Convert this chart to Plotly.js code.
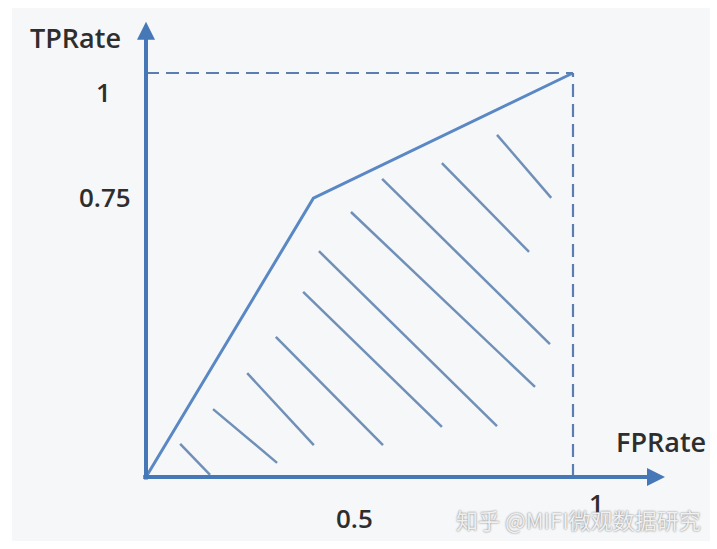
<!DOCTYPE html>
<html>
<head>
<meta charset="utf-8">
<script src="https://cdn.plot.ly/plotly-3.0.1.min.js"></script>
<style>html,body{margin:0;padding:0;background:#ffffff;}#chart{width:717px;height:549px;}</style>
</head>
<body>
<div id="chart"></div>
<script>
// ROC curve points
var rocFPR = [0, 0.392, 1];
var rocTPR = [0, 0.690, 1];

// hatch segments (start / end)
var hatchX0 = [0.080, 0.157, 0.237, 0.304, 0.368, 0.405, 0.480, 0.553, 0.693, 0.822];
var hatchY0 = [0.082, 0.168, 0.257, 0.347, 0.458, 0.559, 0.656, 0.738, 0.777, 0.847];
var hatchX1 = [0.150, 0.307, 0.393, 0.555, 0.693, 0.822, 0.911, 0.946, 0.897, 0.949];
var hatchY1 = [0.005, 0.035, 0.079, 0.079, 0.124, 0.126, 0.223, 0.329, 0.557, 0.691];

// axis and tick labels
var axisTitles = ['FPRate', 'TPRate'];
var xTickLabels = ['0.5', '1'];
var yTickLabels = ['1', '0.75'];
var watermark = '知乎 @MIFI微观数据研究';

var hx = [], hy = [];
for (var i = 0; i < hatchX0.length; i++) {
  hx.push(hatchX0[i], hatchX1[i], null);
  hy.push(hatchY0[i], hatchY1[i], null);
}

var axisColor = '#4677b6';
var txtFont = {family: 'Open Sans, Liberation Sans, sans-serif', size: 26, color: '#2e2e2e', weight: 600};

var traces = [
  {x: hx, y: hy, mode: 'lines', line: {color: '#7090b8', width: 2.5}, hoverinfo: 'skip', showlegend: false},
  {x: rocFPR, y: rocTPR, mode: 'lines', line: {color: '#5a88c4', width: 3}, hoverinfo: 'skip', showlegend: false}
];

var layout = {
  width: 717, height: 549,
  margin: {l: 12, r: 7, t: 8, b: 8},
  paper_bgcolor: '#ffffff',
  plot_bgcolor: '#f6f7f9',
  showlegend: false,
  xaxis: {range: [-0.31382, 1.32084], visible: false, fixedrange: true},
  yaxis: {range: [-0.15842, 1.16089], visible: false, fixedrange: true},
  shapes: [
    {type: 'line', xref: 'x', yref: 'y', x0: 0, y0: rocTPR[2], x1: rocFPR[2], y1: rocTPR[2],
     line: {color: '#5b7db0', width: 2.2, dash: '13px,7px'}},
    {type: 'line', xref: 'x', yref: 'y', x0: rocFPR[2], y0: 0, x1: rocFPR[2], y1: rocTPR[2],
     line: {color: '#5b7db0', width: 2.2, dash: '13px,7px'}}
  ],
  annotations: [
    // y axis arrow
    {x: 0, y: 1.127, ax: 0, ay: -0.01, xref: 'x', yref: 'y', axref: 'x', ayref: 'y',
     showarrow: true, arrowhead: 2, arrowsize: 0.9, arrowwidth: 4, arrowcolor: axisColor, text: ''},
    // x axis arrow
    {x: 1.2155, y: 0, ax: -0.01, ay: 0, xref: 'x', yref: 'y', axref: 'x', ayref: 'y',
     showarrow: true, arrowhead: 2, arrowsize: 0.9, arrowwidth: 4, arrowcolor: axisColor, text: ''},
    {x: -0.165, y: 1.088, xref: 'x', yref: 'y', text: axisTitles[1], showarrow: false, font: Object.assign({}, txtFont, {size: 27})},
    {x: 1.205, y: 0.089, xref: 'x', yref: 'y', text: axisTitles[0], showarrow: false, font: Object.assign({}, txtFont, {size: 27})},
    {x: -0.099, y: 0.952, xref: 'x', yref: 'y', text: yTickLabels[0], showarrow: false, font: txtFont},
    {x: -0.097, y: 0.694, xref: 'x', yref: 'y', text: yTickLabels[1], showarrow: false, font: txtFont},
    {x: 0.489, y: -0.101, xref: 'x', yref: 'y', text: xTickLabels[0], showarrow: false, font: txtFont},
    {x: 1.054, y: -0.064, xref: 'x', yref: 'y', text: xTickLabels[1], showarrow: false, font: txtFont},
    {x: 1.012, y: -0.103, xref: 'x', yref: 'y', text: watermark, showarrow: false,
     font: {family: 'Noto Sans CJK SC, sans-serif', size: 22, color: '#f0f0f0', shadow: '0px 0px 2px #6a6a6a'}}
  ]
};

Plotly.newPlot('chart', traces, layout, {displayModeBar: false, staticPlot: true});
</script>
</body>
</html>
